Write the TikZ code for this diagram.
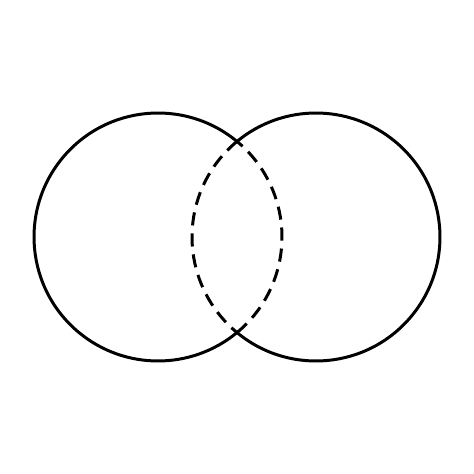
\documentclass[tikz,border=0pt]{standalone}
\usetikzlibrary{calc}

\begin{document}
\begin{tikzpicture}[x=0.02cm,y=0.02cm,
    ring/.style={line width=1.7pt},
    lens/.style={line width=1.7pt,dash pattern=on 7.5pt off 4.5pt}]
  \useasboundingbox (0,0) rectangle (474,474);
  \coordinate (L) at (158,237);
  \coordinate (R) at (316,237);
  % outer parts
  \draw[ring] (L) ++(50.4:124) arc[start angle=50.4,end angle=309.6,radius=124];
  \draw[ring] (R) ++(-129.6:124) arc[start angle=-129.6,end angle=129.6,radius=124];
  % overlap
  \draw[lens] (L) ++(-50.4:124) arc[start angle=-50.4,end angle=50.4,radius=124];
  \draw[lens] (R) ++(129.6:124) arc[start angle=129.6,end angle=230.4,radius=124];
\end{tikzpicture}
\end{document}
